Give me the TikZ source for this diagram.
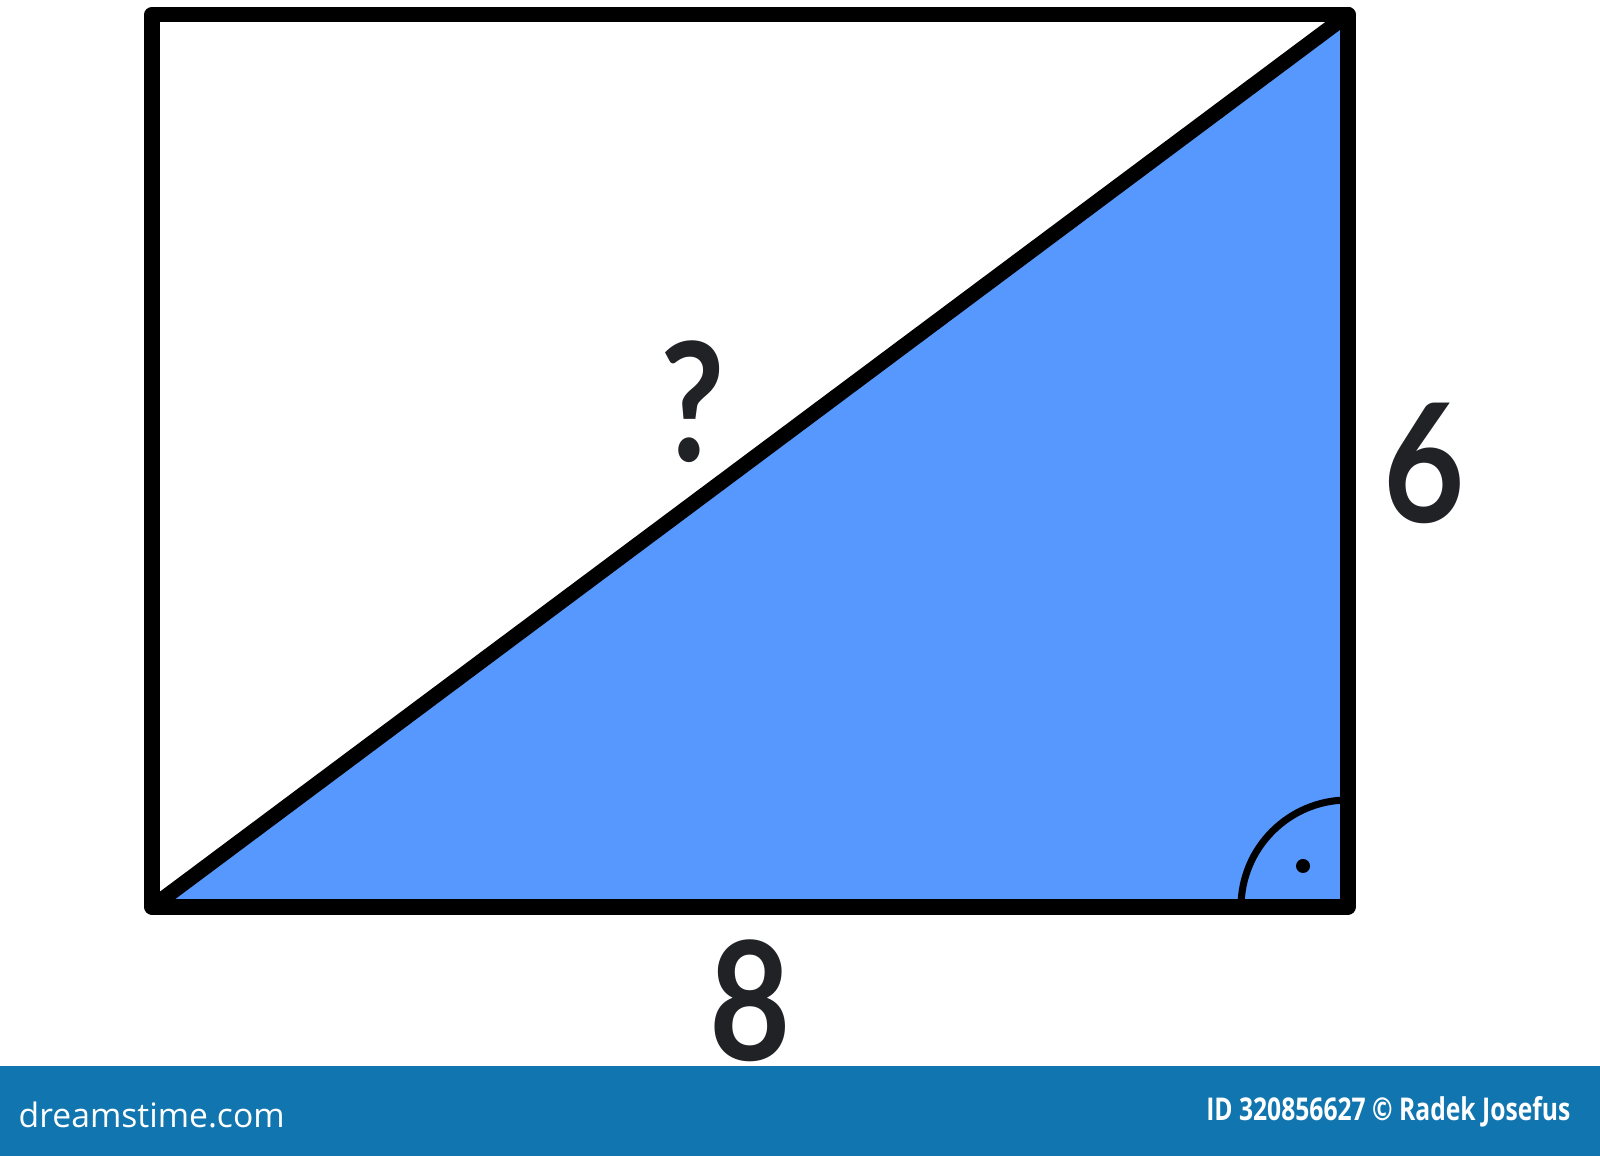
\documentclass[tikz,border=0pt]{standalone}
\usepackage{fontspec}
\setmainfont{Lato}
\newfontfamily\labelfont{Lato}[FakeStretch=0.85]
\newfontfamily\bannerfont{Open Sans}
\usepackage{graphicx}
\usepackage{xcolor}
\usetikzlibrary{positioning}

\definecolor{triblue}{HTML}{5698FE}
\definecolor{inkdark}{HTML}{202226}
\definecolor{bannerblue}{HTML}{1176AF}

\begin{document}
\begin{tikzpicture}[
    edge/.style={draw=black, line width=4.3pt, line join=round, line cap=round},
    anglemark/.style={draw=black, line width=2pt},
    sidelabel/.style={text=inkdark, font=\labelfont\fontsize{47}{50}\selectfont\bfseries, inner sep=0pt},
    credit/.style={text=white, inner sep=0pt}
]
\useasboundingbox (0,0) rectangle (16,11.56);

% Corners of the rectangle
\coordinate (A) at (1.52,2.49);
\coordinate (B) at (13.48,2.49);
\coordinate (C) at (13.48,11.415);
\coordinate (D) at (1.52,11.415);

% Shaded triangle
\fill [triblue] (A) -- (B) -- (C) -- cycle;

% Right angle mark
\draw [anglemark] ([xshift=-1.07cm]B) arc[start angle=180, end angle=90, radius=1.07cm];
\fill [black] (13.03,2.90) circle (0.07);

% Rectangle and diagonal
\draw [edge] (A) -- (B) -- (C) -- (D) -- cycle;
\draw [edge] (A) -- (C);

% Labels
\node [sidelabel] (diag) at (6.93,7.54) {?};
\node [sidelabel] (height) at (14.24,6.93) {6};
\node [sidelabel] (width) at (7.50,1.55) {8};

% Bottom banner
\fill [bannerblue] (0,0) rectangle (16,0.90);
\node [credit, anchor=west] (site) at (0.18,0.41) {\resizebox{2.66cm}{!}{\bannerfont dreamstime.com}};
\node [credit, anchor=east] (id) at (15.71,0.44) {\resizebox{3.64cm}{0.24cm}{\bannerfont\bfseries ID 320856627 © Radek Josefus}};

\end{tikzpicture}
\end{document}
